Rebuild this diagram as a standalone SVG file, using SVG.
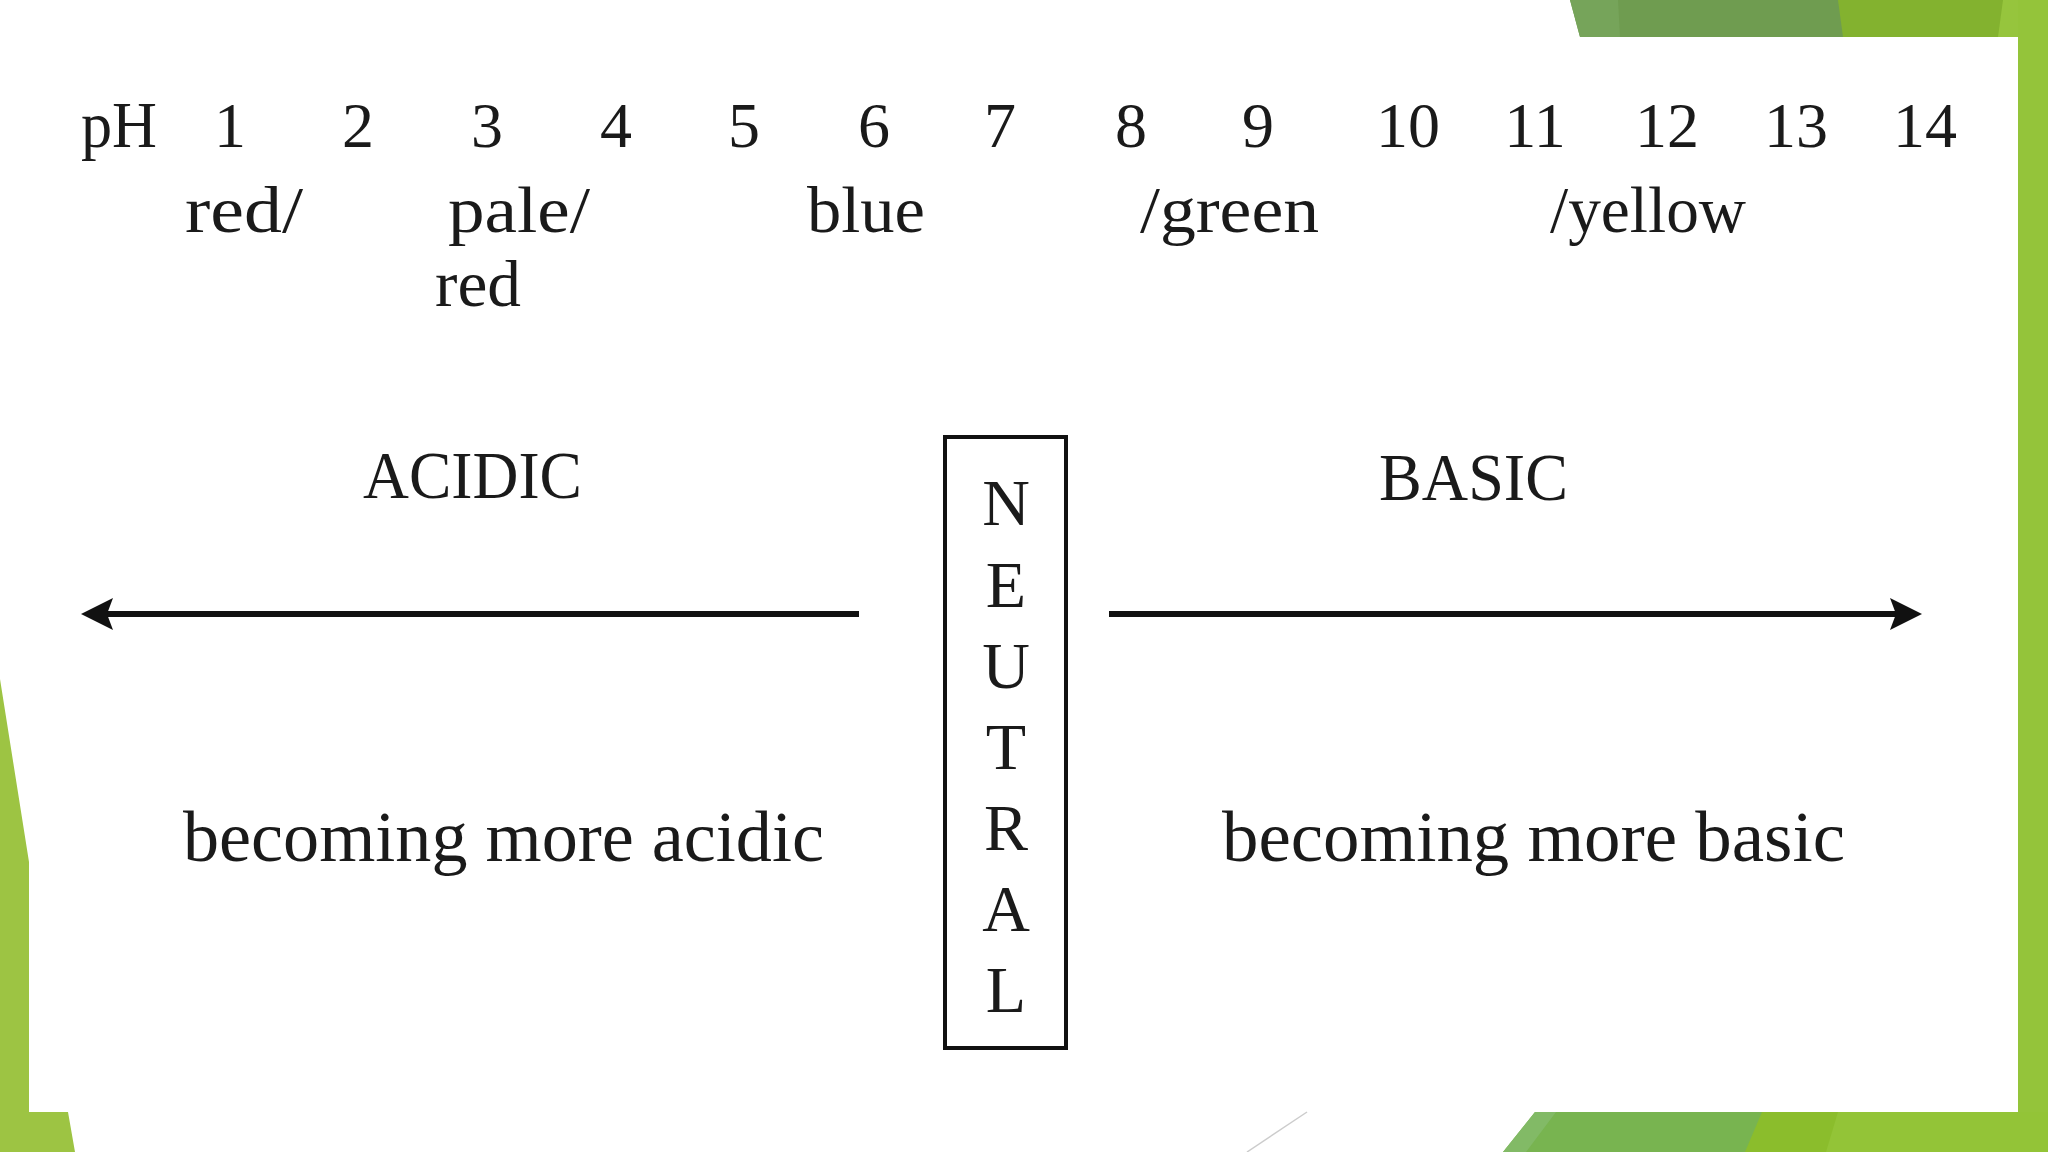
<svg xmlns="http://www.w3.org/2000/svg" width="2048" height="1152" viewBox="0 0 2048 1152">
<style>
  .t { font-family: "Liberation Serif", "Times New Roman", serif; fill: #1a1a1a; }
  .num { font-size: 64px; text-anchor: middle; }
  .lbl { font-size: 66px; }
  .big { font-size: 68px; }
  .phrase { font-size: 72px; }
  .neu { font-size: 66px; text-anchor: middle; }
  .arrow { stroke: #111; stroke-width: 6; fill: none; }
</style>
<defs>
  <marker id="head" markerUnits="userSpaceOnUse" markerWidth="34" markerHeight="36" refX="6" refY="17" orient="auto">
    <path d="M0,1 L32,17 L0,33 L6,17 Z" fill="#111"/>
  </marker>
</defs>
<rect x="0" y="0" width="2048" height="1152" fill="#ffffff"/>
<g id="decoration">
  <polygon points="1570,0 2048,0 2048,37 1580,37" fill="#6f9c50"/>
  <polygon points="1570,0 1618,0 1620,37 1580,37" fill="#76a45a"/>
  <polygon points="1838,0 2048,0 2048,37 1843,37" fill="#83b22f"/>
  <polygon points="2003,0 2048,0 2048,37 1998,37" fill="#96c53d"/>
  <rect x="2018" y="0" width="30" height="1152" fill="#94c43a"/>
  <polygon points="1535,1112 2048,1112 2048,1152 1503,1152" fill="#78b450"/>
  <polygon points="1535,1112 1556,1112 1526,1152 1503,1152" fill="#82ba66"/>
  <polygon points="1762,1112 2048,1112 2048,1152 1745,1152" fill="#8bbd2c"/>
  <polygon points="1838,1112 2048,1112 2048,1152 1826,1152" fill="#93c437"/>
  <polygon points="0,679 29,862 29,1112 68,1112 75,1152 0,1152" fill="#9dc443"/>
  <line x1="1307" y1="1112" x2="1247" y2="1152" stroke="#cccccc" stroke-width="1.5"/>
</g>
<g id="ph-scale" class="t">
  <text class="t lbl" x="81" y="147" textLength="76" lengthAdjust="spacingAndGlyphs">pH</text>
  <text class="t num" x="230" y="147">1</text>
  <text class="t num" x="358" y="147">2</text>
  <text class="t num" x="487" y="147">3</text>
  <text class="t num" x="616" y="147">4</text>
  <text class="t num" x="744" y="147">5</text>
  <text class="t num" x="874" y="147">6</text>
  <text class="t num" x="1000" y="147">7</text>
  <text class="t num" x="1131" y="147">8</text>
  <text class="t num" x="1258" y="147">9</text>
  <text class="t num" x="1408" y="147">10</text>
  <text class="t num" x="1535" y="147">11</text>
  <text class="t num" x="1667" y="147">12</text>
  <text class="t num" x="1796" y="147">13</text>
  <text class="t num" x="1925" y="147">14</text>
</g>
<g id="colour-labels">
  <text class="t lbl" x="185" y="232" textLength="118" lengthAdjust="spacingAndGlyphs">red/</text>
  <text class="t lbl" x="448" y="232" textLength="142" lengthAdjust="spacingAndGlyphs">pale/</text>
  <text class="t lbl" x="435" y="306" textLength="86" lengthAdjust="spacingAndGlyphs">red</text>
  <text class="t lbl" x="807" y="232" textLength="118" lengthAdjust="spacingAndGlyphs">blue</text>
  <text class="t lbl" x="1140" y="232" textLength="179" lengthAdjust="spacingAndGlyphs">/green</text>
  <text class="t lbl" x="1550" y="232" textLength="196" lengthAdjust="spacingAndGlyphs">/yellow</text>
</g>
<g id="acidic">
  <text class="t big" x="363" y="498" textLength="219" lengthAdjust="spacingAndGlyphs">ACIDIC</text>
  <text class="t phrase" x="183" y="861" textLength="641" lengthAdjust="spacingAndGlyphs">becoming more acidic</text>
</g>
<g id="basic">
  <text class="t big" x="1379" y="500" textLength="189" lengthAdjust="spacingAndGlyphs">BASIC</text>
  <text class="t phrase" x="1222" y="861" textLength="623" lengthAdjust="spacingAndGlyphs">becoming more basic</text>
</g>
<g id="neutral">
  <rect x="945" y="437" width="121" height="611" fill="none" stroke="#111" stroke-width="4"/>
  <text class="t neu" x="1006" y="525">N</text>
  <text class="t neu" x="1006" y="607">E</text>
  <text class="t neu" x="1006" y="688">U</text>
  <text class="t neu" x="1006" y="769">T</text>
  <text class="t neu" x="1006" y="850">R</text>
  <text class="t neu" x="1006" y="931">A</text>
  <text class="t neu" x="1006" y="1012">L</text>
</g>
<g id="connectors">
  <line class="arrow" x1="859" y1="614" x2="107" y2="614" marker-end="url(#head)"/>
  <line class="arrow" x1="1109" y1="614" x2="1896" y2="614" marker-end="url(#head)"/>
</g>
</svg>
